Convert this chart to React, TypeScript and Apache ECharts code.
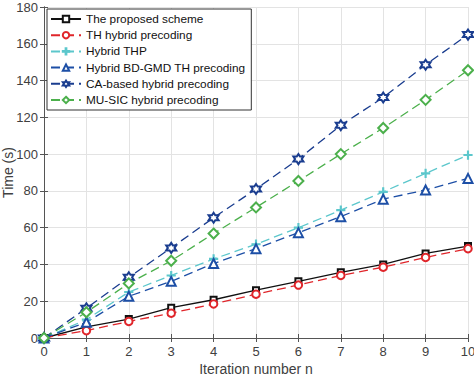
import React, { useEffect, useRef } from "react";
import * as echarts from "echarts";

const iterations = [0, 1, 2, 3, 4, 5, 6, 7, 8, 9, 10];
const proposed = [0, 6, 10.3, 16.5, 20.8, 26, 30.8, 35.7, 40, 46, 50];
const thHybrid = [0, 4, 9, 13.5, 18.5, 23.8, 28.8, 34, 38.5, 43.8, 48.6];
const hybridTHP = [0, 10, 25, 34, 43, 51, 60, 69.5, 79.5, 89.5, 99.5];
const bdGmd = [0, 8.6, 22.7, 30.8, 40.5, 48.6, 57.3, 66, 75.5, 80.5, 86.8];
const caBased = [0, 16.2, 33, 49, 65.4, 81, 97.3, 115.7, 130.8, 148.6, 165];
const muSic = [0, 14, 29.7, 42, 56.8, 71, 85.4, 100, 114.2, 129.5, 145.6];

const seriesNames = [
  "The proposed scheme",
  "TH hybrid precoding",
  "Hybrid THP",
  "Hybrid BD-GMD TH precoding",
  "CA-based hybrid precoding",
  "MU-SIC hybrid precoding",
];

const PLUS = "path://M4.4,0H5.6V4.4H10V5.6H5.6V10H4.4V5.6H0V4.4H4.4Z";
const HEX =
  "emptyPath://M10,0 L12.89,5 L18.66,5 L15.77,10 L18.66,15 L12.89,15 L10,20 L7.11,15 L1.34,15 L4.23,10 L1.34,5 L7.11,5 Z";

export default function App() {
  const ref = useRef<HTMLDivElement>(null);
  useEffect(() => {
    if (!ref.current) return;
    const chart = echarts.init(ref.current, undefined, { renderer: "svg" });
    const font = "'Liberation Sans', Arial, sans-serif";
    const axisColor = "#555";
    const labelColor = "#404040";
    const mk = (
      name: string,
      data: number[],
      color: string,
      symbol: string,
      dashed: boolean,
      size: number
    ) => ({
      name,
      type: "line",
      data: iterations.map((x, i) => [x, data[i]]),
      symbol,
      symbolSize: size,
      showAllSymbol: true,
      itemStyle: { color, borderColor: color, borderWidth: 1.2 },
      lineStyle: { color, width: 1.3, type: dashed ? [9, 5] : "solid" },
    });
    const tick = { show: true, inside: true, length: 4, lineStyle: { color: axisColor } };
    chart.setOption({
      animation: false,
      textStyle: { fontFamily: font },
      grid: {
        left: 44,
        right: 6,
        top: 7,
        bottom: 39,
        containLabel: false,
        outerBoundsMode: "none",
      },
      legend: {
        orient: "vertical",
        left: 47,
        top: 9,
        itemWidth: 30,
        itemHeight: 8,
        itemGap: 4.2,
        padding: [4, 6, 4, 3],
        borderColor: "#333",
        borderWidth: 1,
        backgroundColor: "#fff",
        textStyle: { fontSize: 11.8, color: "#111", fontFamily: font, lineHeight: 12 },
        data: seriesNames,
      },
      xAxis: [
        {
          type: "value",
          min: 0,
          max: 10,
          interval: 1,
          name: "Iteration number n",
          nameLocation: "middle",
          nameGap: 24,
          nameMoveOverlap: false,
          nameTextStyle: { fontSize: 14, color: labelColor },
          axisLine: { show: true, lineStyle: { color: axisColor } },
          axisTick: tick,
          axisLabel: { fontSize: 13, color: labelColor, margin: 7 },
          splitLine: { show: true, lineStyle: { color: "#e3e3e3" } },
        },
        {
          type: "value",
          position: "top",
          min: 0,
          max: 10,
          interval: 1,
          axisLine: { show: true, lineStyle: { color: axisColor } },
          axisTick: tick,
          axisLabel: { show: false },
          splitLine: { show: false },
        },
      ],
      yAxis: [
        {
          type: "value",
          min: 0,
          max: 180,
          interval: 20,
          name: "Time (s)",
          nameLocation: "middle",
          nameGap: 29,
          nameMoveOverlap: false,
          nameTextStyle: { fontSize: 14, color: labelColor },
          axisLine: { show: true, lineStyle: { color: axisColor } },
          axisTick: tick,
          axisLabel: { fontSize: 13, color: labelColor, margin: 6 },
          splitLine: { show: true, lineStyle: { color: "#e3e3e3" } },
        },
        {
          type: "value",
          position: "right",
          min: 0,
          max: 180,
          interval: 20,
          axisLine: { show: true, lineStyle: { color: axisColor } },
          axisTick: tick,
          axisLabel: { show: false },
          splitLine: { show: false },
        },
      ],
      series: [
        mk(seriesNames[0], proposed, "#111111", "emptyRect", false, 6),
        mk(seriesNames[1], thHybrid, "#e0262b", "emptyCircle", true, 7.5),
        mk(seriesNames[2], hybridTHP, "#5cc7cc", PLUS, true, 8),
        mk(seriesNames[3], bdGmd, "#1d4fa6", "emptyTriangle", true, 9),
        mk(seriesNames[4], caBased, "#1a3d8f", HEX, true, 10),
        mk(seriesNames[5], muSic, "#4cb04c", "emptyDiamond", true, 10),
      ],
    });
    return () => chart.dispose();
  }, []);
  return <div ref={ref} style={{ width: 474, height: 377, position: "absolute", left: 0, top: 0 }} />;
}
